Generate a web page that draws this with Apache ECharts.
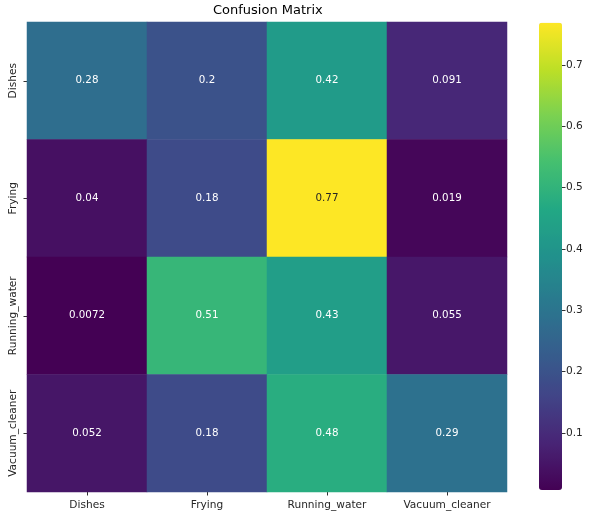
<!DOCTYPE html>
<html>
<head>
<meta charset="UTF-8">
<title>Confusion Matrix</title>
<script type="text/javascript" src="https://cdn.jsdelivr.net/npm/echarts@6/dist/echarts.min.js"></script>
<style>
html, body { margin: 0; padding: 0; background: #fff; }
</style>
</head>
<body>
<div id="mychar" style="width:596px;height:525px;"></div>

<script type="text/javascript">

var classes = ['Dishes', 'Frying', 'Running_water', 'Vacuum_cleaner'];

// one row per true class, one value per predicted class
var rowDishes = [0.28, 0.2, 0.42, 0.091];
var rowFrying = [0.04, 0.18, 0.77, 0.019];
var rowRunning = [0.0072, 0.51, 0.43, 0.055];
var rowVacuum = [0.052, 0.18, 0.48, 0.29];

var colorMin = 0.0072;
var colorMax = 0.7686;
var colorTicks = [0.1, 0.2, 0.3, 0.4, 0.5, 0.6, 0.7];

var viridis = ['#440154', '#482475', '#414487', '#355f8d', '#2a788e', '#21918c',
               '#22a884', '#44bf70', '#7ad151', '#bddf26', '#fde725'];

var rows = [rowDishes, rowFrying, rowRunning, rowVacuum];
var cells = [];
for (var i = 0; i < rows.length; i++) {
  for (var j = 0; j < rows[i].length; j++) {
    var v = rows[i][j];
    cells.push({
      value: [j, i, v],
      label: { color: v > 0.6 ? '#262626' : '#ffffff' }
    });
  }
}

var fontName = 'DejaVu Sans';

var mychart = echarts.init(document.getElementById('mychar'));

var option = {
  animation: false,
  textStyle: { fontFamily: fontName },
  title: {
    text: 'Confusion Matrix',
    left: 213,
    top: 4,
    padding: 0,
    textStyle: { fontFamily: fontName, fontSize: 13, fontWeight: 'normal', color: '#000' }
  },
  grid: [
    { left: 27, top: 22, width: 480, height: 470 },
    { left: 562, top: 22.7, width: 1, height: 467.3 }
  ],
  xAxis: [{
    type: 'category',
    data: classes,
    gridIndex: 0,
    axisLine: { show: false },
    axisTick: { show: true, alignWithLabel: true, length: 3.5, lineStyle: { color: '#333' } },
    axisLabel: { fontFamily: fontName, fontSize: 10.6, color: '#262626', margin: 8 },
    splitArea: { show: false }
  }, {
    type: 'value',
    gridIndex: 1,
    show: false
  }],
  yAxis: [{
    type: 'category',
    data: classes,
    inverse: true,
    gridIndex: 0,
    axisLine: { show: false },
    axisTick: { show: true, alignWithLabel: true, length: 3.5, lineStyle: { color: '#333' } },
    axisLabel: { fontFamily: fontName, fontSize: 10.6, color: '#262626', rotate: 90, margin: 8 }
  }, {
    type: 'value',
    gridIndex: 1,
    position: 'right',
    min: colorMin,
    max: colorMax,
    splitLine: { show: false },
    axisLine: { show: false },
    axisTick: {
      show: true, inside: false, length: 3.5,
      customValues: colorTicks,
      lineStyle: { color: '#333' }
    },
    axisLabel: {
      fontFamily: fontName, fontSize: 10.6, color: '#262626', margin: 3,
      customValues: colorTicks,
      formatter: function (v) { return v.toFixed(1); }
    }
  }],
  visualMap: {
    type: 'continuous',
    min: colorMin,
    max: colorMax,
    calculable: false,
    orient: 'vertical',
    left: 539,
    top: 22.7,
    padding: 0,
    itemWidth: 23,
    itemHeight: 467.3,
    text: null,
    showLabel: false,
    seriesIndex: 0,
    inRange: { color: viridis }
  },
  series: [{
    type: 'heatmap',
    xAxisIndex: 0,
    yAxisIndex: 0,
    data: cells,
    label: {
      show: true,
      fontFamily: fontName,
      fontSize: 10.3,
      formatter: function (p) { return String(p.value[2]); }
    },
    itemStyle: { borderWidth: 0 },
    emphasis: { disabled: true }
  }]
};

mychart.setOption(option);
</script>
</body>
</html>
